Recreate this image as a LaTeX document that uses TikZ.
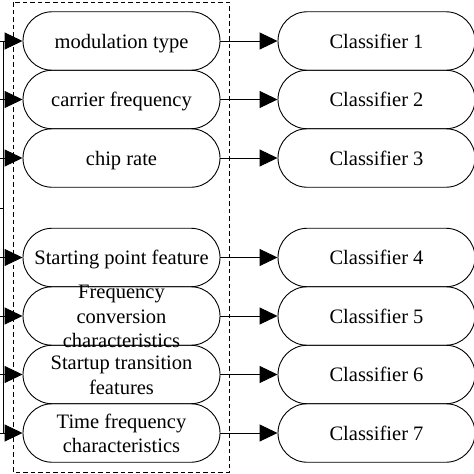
\documentclass[tikz,border=0pt]{standalone}
\usepackage{fontspec}
\setmainfont{Liberation Serif}
\usetikzlibrary{arrows.meta}
\begin{document}
\begin{tikzpicture}[x=1pt,y=-1pt,
  pill/.style={draw, line width=0.9pt, rounded corners=29.25pt, minimum width=197pt, minimum height=58.5pt, inner sep=0pt},
  lbl/.style={align=center, font=\fontsize{20.5}{24.5}\selectfont, inner sep=0pt, anchor=base},
  one/.style={lbl, yshift=-7.3pt},
  two/.style={lbl, yshift=-19.55pt},
  three/.style={lbl, yshift=-31.8pt},
  arr/.style={-{Triangle[length=18pt,width=17pt]}, line width=0.9pt},
  frame/.style={draw, dash pattern=on 4.5pt off 3pt, line width=0.8pt}]
\useasboundingbox (0,0) rectangle (474,474);
% dashed frame
\draw[frame] (13,2) rectangle (229,472);
% feature and classifier boxes
\foreach \n/\y in {1/41,2/99.5,3/158,4/257.5,5/316,6/374.5,7/433}{
  \node[pill] (f\n) at (121.5,\y) {};
  \node[pill] (c\n) at (376.5,\y) {};
  \draw[arr] (f\n.east) -- (c\n.west);
  \coordinate (s\n) at (0,\y);
  \draw[arr] (s\n) -- (f\n.west);
}
\node[one] (t1) at (f1) {modulation type};
\node[one] (t2) at (f2) {carrier frequency};
\node[one] (t3) at (f3) {chip rate};
\node[one] (t4) at (f4) {Starting point feature};
\node[three] (t5) at (f5) {Frequency\\conversion\\characteristics};
\node[two] (t6) at (f6) {Startup transition\\features};
\node[two] (t7) at (f7) {Time frequency\\characteristics};
\foreach \n in {1,...,7}{
  \node[one] (k\n) at (c\n) {Classifier \n};
}
% input bus
\coordinate (vtop) at (3,41);
\coordinate (vbot) at (3,433);
\coordinate (in) at (0,208);
\coordinate (inj) at (3,208);
\draw[line width=0.9pt] (vtop) -- (vbot);
\draw[line width=0.9pt] (in) -- (inj);
\end{tikzpicture}
\end{document}
